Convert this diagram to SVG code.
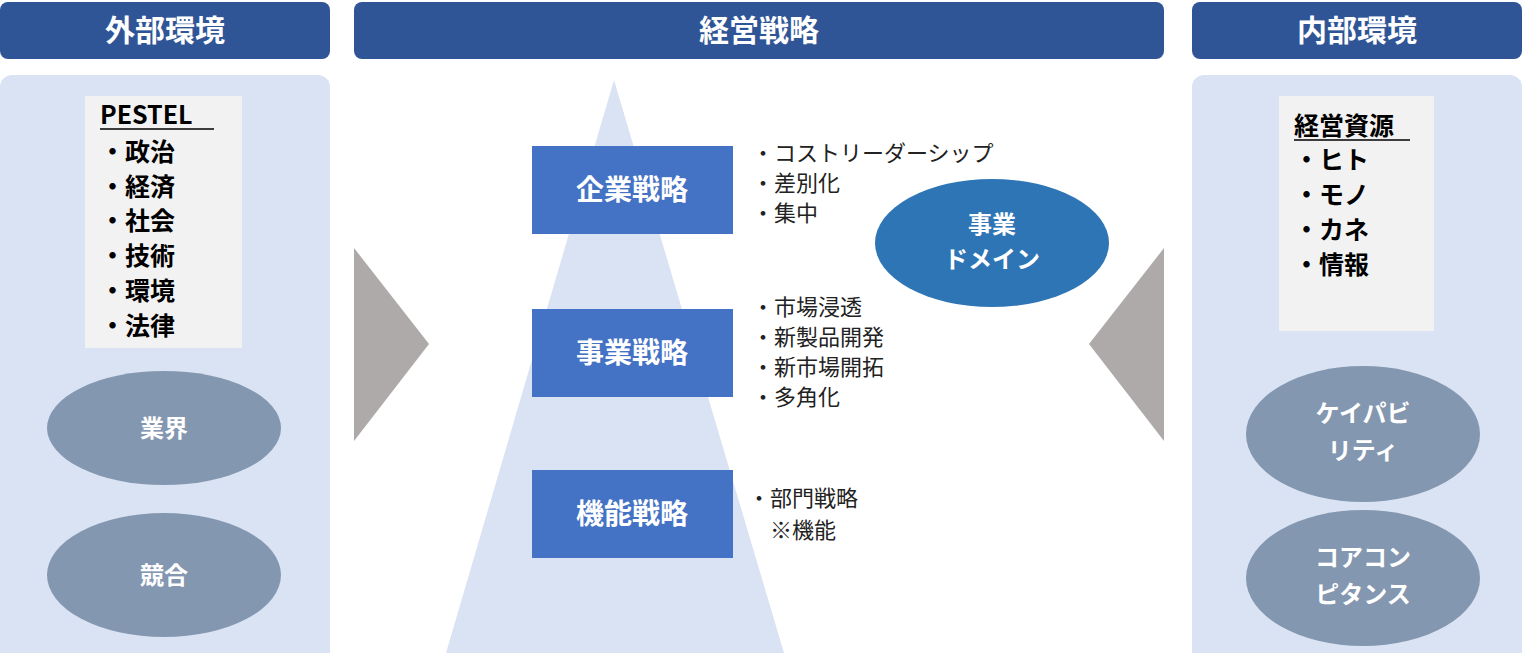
<svg xmlns="http://www.w3.org/2000/svg" width="1522" height="653" viewBox="0 0 1522 653">
<style>
text{font-family:"Noto Sans CJK JP","Noto Sans",sans-serif}
.hd{fill:#2f5597}
.ht{fill:#fff;font-size:30px;font-weight:bold;text-anchor:middle}
.pn{fill:#dae3f3}
.gb{fill:#f2f2f2}
.el{fill:#8497b0}
.et{fill:#fff;font-size:24px;font-weight:bold;text-anchor:middle}
.bx{fill:#4472c4}
.bt{fill:#fff;font-size:28px;font-weight:bold;text-anchor:middle}
.lt{fill:#000;font-size:25px;font-weight:bold}
.st{fill:#222;font-size:22px}
.ar{fill:#aeaaaa}
</style>
<g id="header-left"><rect class="hd" x="0" y="2" width="330" height="57" rx="8"/><text class="ht" x="165" y="41">外部環境</text></g>
<g id="header-mid"><rect class="hd" x="354" y="2" width="810" height="57" rx="8"/><text class="ht" x="759" y="41">経営戦略</text></g>
<g id="header-right"><rect class="hd" x="1192" y="2" width="330" height="57" rx="8"/><text class="ht" x="1357" y="41">内部環境</text></g>
<g id="panel-left"><rect class="pn" x="0" y="75" width="330" height="590" rx="12"/></g>
<g id="panel-right"><rect class="pn" x="1192" y="75" width="330" height="590" rx="12"/></g>
<g id="pestel"><rect class="gb" x="85" y="96" width="157" height="252"/>
<text class="lt" x="100" y="124">PESTEL</text><line x1="100" y1="129" x2="214" y2="129" stroke="#000" stroke-width="1.5"/>
<text class="lt" x="100" y="161">・政治</text><text class="lt" x="100" y="196">・経済</text><text class="lt" x="100" y="230">・社会</text><text class="lt" x="100" y="265">・技術</text><text class="lt" x="100" y="300">・環境</text><text class="lt" x="100" y="335">・法律</text></g>
<g id="gyokai"><ellipse class="el" cx="164" cy="428" rx="117" ry="57"/><text class="et" x="164" y="437">業界</text></g>
<g id="kyogo"><ellipse class="el" cx="164" cy="575" rx="117" ry="62"/><text class="et" x="164" y="584">競合</text></g>
<g id="resources"><rect class="gb" x="1279" y="96" width="155" height="235"/>
<text class="lt" x="1294" y="135">経営資源</text><line x1="1294" y1="140" x2="1410" y2="140" stroke="#000" stroke-width="1.5"/>
<text class="lt" x="1294" y="169">・ヒト</text><text class="lt" x="1294" y="204">・モノ</text><text class="lt" x="1294" y="239">・カネ</text><text class="lt" x="1294" y="274">・情報</text></g>
<g id="capability"><ellipse class="el" cx="1363" cy="434" rx="117" ry="68"/><text class="et" x="1363" y="422">ケイパビ</text><text class="et" x="1363" y="459">リティ</text></g>
<g id="core"><ellipse class="el" cx="1363" cy="578" rx="117" ry="68"/><text class="et" x="1363" y="566">コアコン</text><text class="et" x="1363" y="603">ピタンス</text></g>
<g id="pyramid"><polygon class="pn" points="614,80 446,653 784,653"/></g>
<g id="connectors"><polygon class="ar" points="354,248 429,344 354,441"/><polygon class="ar" points="1164,248 1089,344 1164,441"/></g>
<g id="corp"><rect class="bx" x="532" y="146" width="201" height="88"/><text class="bt" x="632" y="200">企業戦略</text></g>
<g id="biz"><rect class="bx" x="532" y="309" width="201" height="88"/><text class="bt" x="632" y="363">事業戦略</text></g>
<g id="func"><rect class="bx" x="532" y="470" width="201" height="88"/><text class="bt" x="632" y="524">機能戦略</text></g>
<g id="corp-notes"><text class="st" x="752" y="161">・コストリーダーシップ</text><text class="st" x="752" y="191">・差別化</text><text class="st" x="752" y="221">・集中</text></g>
<g id="biz-notes"><text class="st" x="752" y="315">・市場浸透</text><text class="st" x="752" y="345">・新製品開発</text><text class="st" x="752" y="375">・新市場開拓</text><text class="st" x="752" y="405">・多角化</text></g>
<g id="func-notes"><text class="st" x="748" y="506">・部門戦略</text><text class="st" x="770" y="538">※機能</text></g>
<g id="domain"><ellipse cx="992" cy="243" rx="117" ry="64" fill="#2e75b6"/><text class="et" x="992" y="233">事業</text><text class="et" x="992" y="268">ドメイン</text></g>
</svg>
